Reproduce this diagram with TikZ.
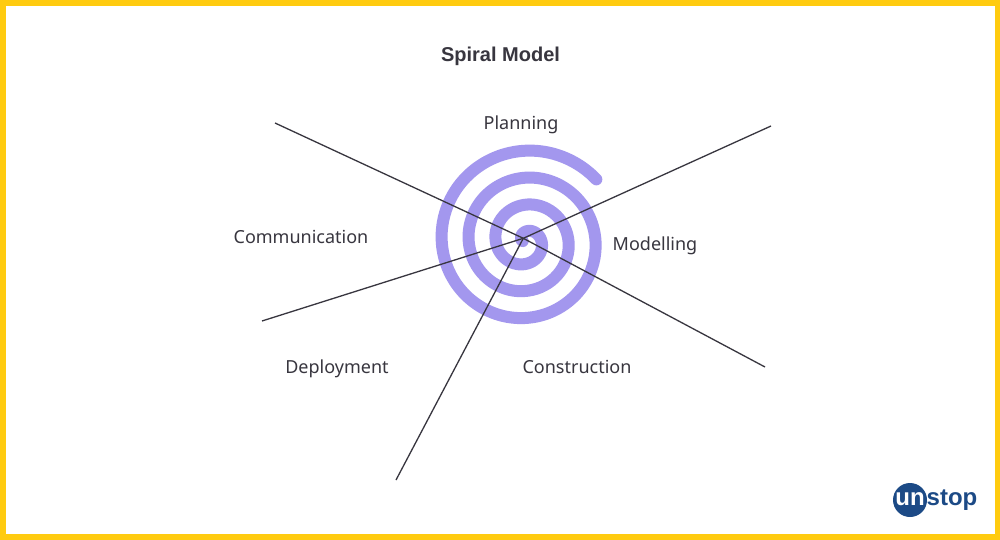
\documentclass[tikz,border=0pt]{standalone}
\usepackage{fontspec}
\setmainfont{Noto Sans}
\newfontfamily\logofont{Liberation Sans}
\definecolor{frameyellow}{HTML}{FFCB0F}
\definecolor{spiralviolet}{HTML}{A397EE}
\definecolor{spokegrey}{HTML}{38363F}
\definecolor{logoblue}{HTML}{1C4A86}
\tikzset{
  phase/.style={font=\fontsize{18}{20}\selectfont,text=spokegrey,inner sep=0pt},
  spoke/.style={draw=spokegrey,line width=1.3pt}
}
\begin{document}
\begin{tikzpicture}[x=1pt,y=-1pt]
\pgfmathsetmacro{\cx}{525.35}
\pgfmathsetmacro{\cy}{241.1}
\useasboundingbox (0,0) rectangle (1000,540);
\fill[frameyellow] (0,0) rectangle (1000,540);
\fill[white] (6,6) rectangle (995,534);
\draw[spiralviolet,line width=12pt,line cap=round] plot[domain=-49:1170,samples=240,smooth,variable=\t]
  ({\cx+(90.4-0.075*\t)*cos(90+\t)},{\cy-(90.4-0.075*\t)*sin(90+\t)});
\coordinate (hub) at (523.3,238.3);
\coordinate (northwest) at (275,123);
\coordinate (northeast) at (771,126);
\coordinate (southeast) at (765,367);
\coordinate (south) at (396,480);
\coordinate (west) at (262,321);
\draw[spoke] (northwest)--(hub);
\draw[spoke] (northeast)--(hub);
\draw[spoke] (southeast)--(hub);
\draw[spoke] (south)--(hub);
\draw[spoke] (west)--(hub);
\node[phase,font=\logofont\fontsize{20}{22}\selectfont\bfseries] (title) at (500.5,56.5) {Spiral Model};
\node[phase] (planning) at (521,124.5) {Planning};
\node[phase] (modelling) at (655,245.5) {Modelling};
\node[phase] (communication) at (301,236.5) {Communication};
\node[phase] (construction) at (577,367) {Construction};
\node[phase] (deployment) at (337,368.5) {Deployment};
\fill[logoblue] (910,500) circle (17);
\node[font=\logofont\fontsize{24}{24}\selectfont\bfseries,text=white,inner sep=0pt,anchor=base] (un) at (910,505.5) {un};
\node[font=\logofont\fontsize{24}{24}\selectfont\bfseries,text=logoblue,inner sep=0pt,anchor=base west] (stop) at (926.5,505.5) {stop};
\end{tikzpicture}
\end{document}
